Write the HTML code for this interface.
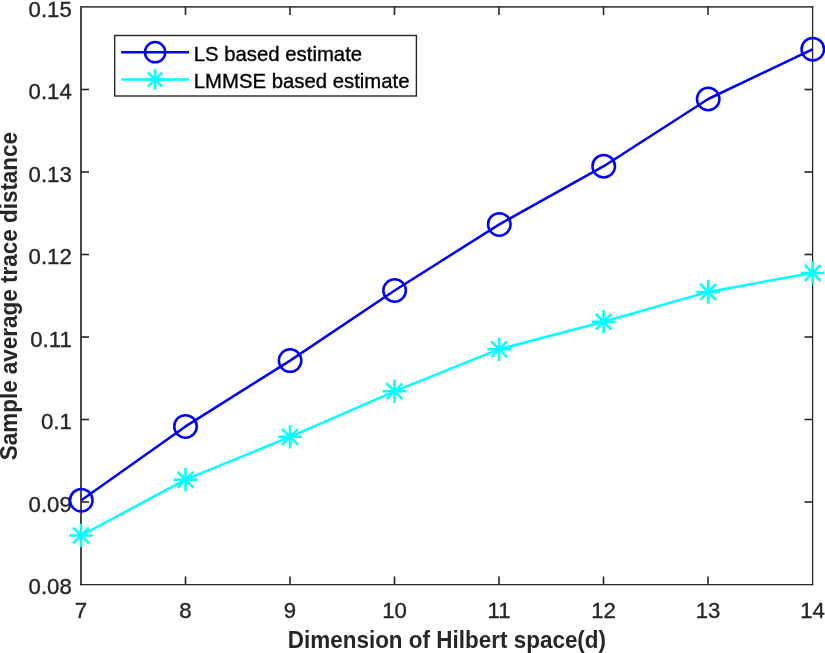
<!DOCTYPE html>
<html lang="en">
<head>
<meta charset="utf-8">
<title>Sample average trace distance</title>
<style>
html,body{margin:0;padding:0;background:#fff;}
body{width:825px;height:653px;overflow:hidden;}
svg{display:block;}
text{font-family:"Liberation Sans",sans-serif;fill:#262626;}
.t{font-size:22.2px;stroke:#262626;stroke-width:0.35px;}
.l{font-size:22.47px;font-weight:bold;}
.g{font-size:20.35px;fill:#000;stroke:#000;stroke-width:0.35px;}
</style>
</head>
<body>
<svg width="825" height="653" viewBox="0 0 825 653">
<rect x="0" y="0" width="825" height="653" fill="#ffffff"/>
<g fill="none" stroke-linecap="butt">
<line x1="81" y1="5.9" x2="81" y2="585.2" stroke="#474747" stroke-width="2"/>
<line x1="80" y1="6.9" x2="813.2" y2="6.9" stroke="#474747" stroke-width="1.8"/>
<line x1="812.6" y1="6" x2="812.6" y2="585.2" stroke="#262626" stroke-width="1.3"/>
<line x1="80" y1="584.6" x2="813.2" y2="584.6" stroke="#262626" stroke-width="1.3"/>
</g>
<g stroke="#262626" stroke-width="1.6" fill="none" stroke-linecap="butt">
<line x1="185.50" y1="584.5" x2="185.50" y2="576.5"/>
<line x1="185.50" y1="7.0" x2="185.50" y2="15.0"/>
<line x1="81.0" y1="89.50" x2="89.0" y2="89.50"/>
<line x1="812.5" y1="89.50" x2="804.5" y2="89.50"/>
<line x1="290.00" y1="584.5" x2="290.00" y2="576.5"/>
<line x1="290.00" y1="7.0" x2="290.00" y2="15.0"/>
<line x1="81.0" y1="172.00" x2="89.0" y2="172.00"/>
<line x1="812.5" y1="172.00" x2="804.5" y2="172.00"/>
<line x1="394.50" y1="584.5" x2="394.50" y2="576.5"/>
<line x1="394.50" y1="7.0" x2="394.50" y2="15.0"/>
<line x1="81.0" y1="254.50" x2="89.0" y2="254.50"/>
<line x1="812.5" y1="254.50" x2="804.5" y2="254.50"/>
<line x1="499.00" y1="584.5" x2="499.00" y2="576.5"/>
<line x1="499.00" y1="7.0" x2="499.00" y2="15.0"/>
<line x1="81.0" y1="337.00" x2="89.0" y2="337.00"/>
<line x1="812.5" y1="337.00" x2="804.5" y2="337.00"/>
<line x1="603.50" y1="584.5" x2="603.50" y2="576.5"/>
<line x1="603.50" y1="7.0" x2="603.50" y2="15.0"/>
<line x1="81.0" y1="419.50" x2="89.0" y2="419.50"/>
<line x1="812.5" y1="419.50" x2="804.5" y2="419.50"/>
<line x1="708.00" y1="584.5" x2="708.00" y2="576.5"/>
<line x1="708.00" y1="7.0" x2="708.00" y2="15.0"/>
<line x1="81.0" y1="502.00" x2="89.0" y2="502.00"/>
<line x1="812.5" y1="502.00" x2="804.5" y2="502.00"/>
</g>
<text class="t" transform="translate(81.00,617.70) scale(1,1.025)" text-anchor="middle">7</text>
<text class="t" transform="translate(185.50,617.70) scale(1,1.025)" text-anchor="middle">8</text>
<text class="t" transform="translate(290.00,617.70) scale(1,1.025)" text-anchor="middle">9</text>
<text class="t" transform="translate(394.50,617.70) scale(1,1.025)" text-anchor="middle">10</text>
<text class="t" transform="translate(499.00,617.70) scale(1,1.025)" text-anchor="middle">11</text>
<text class="t" transform="translate(603.50,617.70) scale(1,1.025)" text-anchor="middle">12</text>
<text class="t" transform="translate(708.00,617.70) scale(1,1.025)" text-anchor="middle">13</text>
<text class="t" transform="translate(812.50,617.70) scale(1,1.025)" text-anchor="middle">14</text>
<text class="t" transform="translate(71.80,16.60) scale(1,1.025)" text-anchor="end">0.15</text>
<text class="t" transform="translate(71.80,99.10) scale(1,1.025)" text-anchor="end">0.14</text>
<text class="t" transform="translate(71.80,181.60) scale(1,1.025)" text-anchor="end">0.13</text>
<text class="t" transform="translate(71.80,264.10) scale(1,1.025)" text-anchor="end">0.12</text>
<text class="t" transform="translate(71.80,346.60) scale(1,1.025)" text-anchor="end">0.11</text>
<text class="t" transform="translate(71.80,429.10) scale(1,1.025)" text-anchor="end">0.1</text>
<text class="t" transform="translate(71.80,511.60) scale(1,1.025)" text-anchor="end">0.09</text>
<text class="t" transform="translate(71.80,594.10) scale(1,1.025)" text-anchor="end">0.08</text>
<text class="l" transform="translate(446.90,648.10) scale(1,1.025)" text-anchor="middle">Dimension of Hilbert space(d)</text>
<text class="l" transform="translate(16.6,296.1) rotate(-90) scale(1,1.03)" text-anchor="middle">Sample average trace distance</text>
<defs><clipPath id="c"><rect x="80.5" y="7.0" width="732.5" height="577.5"/></clipPath></defs>
<polyline clip-path="url(#c)" points="81.3,500.2 185.5,426.4 290.1,360.6 394.6,290.5 499.3,224.4 603.7,166.2 708.2,99.0 812.8,49.2" fill="none" stroke="#0000ff" stroke-width="2.5" stroke-linejoin="round"/>
<polyline clip-path="url(#c)" points="81.0,535.5 185.5,479.7 290.0,436.8 394.5,391.3 499.1,349.2 603.6,321.7 708.1,291.9 812.6,272.9" fill="none" stroke="#00ffff" stroke-width="2.5" stroke-linejoin="round"/>
<circle cx="81.3" cy="500.2" r="11.25" fill="none" stroke="#0000ff" stroke-width="2.5"/>
<circle cx="185.5" cy="426.4" r="11.25" fill="none" stroke="#0000ff" stroke-width="2.5"/>
<circle cx="290.1" cy="360.6" r="11.25" fill="none" stroke="#0000ff" stroke-width="2.5"/>
<circle cx="394.6" cy="290.5" r="11.25" fill="none" stroke="#0000ff" stroke-width="2.5"/>
<circle cx="499.3" cy="224.4" r="11.25" fill="none" stroke="#0000ff" stroke-width="2.5"/>
<circle cx="603.7" cy="166.2" r="11.25" fill="none" stroke="#0000ff" stroke-width="2.5"/>
<circle cx="708.2" cy="99.0" r="11.25" fill="none" stroke="#0000ff" stroke-width="2.5"/>
<circle cx="812.8" cy="49.2" r="11.25" fill="none" stroke="#0000ff" stroke-width="2.5"/>
<path d="M69.20 535.50H92.80M81.00 523.70V547.30M73.08 527.58L88.92 543.42M73.08 543.42L88.92 527.58" stroke="#00ffff" stroke-width="2.5" fill="none"/>
<path d="M173.70 479.70H197.30M185.50 467.90V491.50M177.58 471.78L193.42 487.62M177.58 487.62L193.42 471.78" stroke="#00ffff" stroke-width="2.5" fill="none"/>
<path d="M278.20 436.80H301.80M290.00 425.00V448.60M282.08 428.88L297.92 444.72M282.08 444.72L297.92 428.88" stroke="#00ffff" stroke-width="2.5" fill="none"/>
<path d="M382.70 391.30H406.30M394.50 379.50V403.10M386.58 383.38L402.42 399.22M386.58 399.22L402.42 383.38" stroke="#00ffff" stroke-width="2.5" fill="none"/>
<path d="M487.30 349.20H510.90M499.10 337.40V361.00M491.18 341.28L507.02 357.12M491.18 357.12L507.02 341.28" stroke="#00ffff" stroke-width="2.5" fill="none"/>
<path d="M591.80 321.70H615.40M603.60 309.90V333.50M595.68 313.78L611.52 329.62M595.68 329.62L611.52 313.78" stroke="#00ffff" stroke-width="2.5" fill="none"/>
<path d="M696.30 291.90H719.90M708.10 280.10V303.70M700.18 283.98L716.02 299.82M700.18 299.82L716.02 283.98" stroke="#00ffff" stroke-width="2.5" fill="none"/>
<path d="M800.80 272.90H824.40M812.60 261.10V284.70M804.68 264.98L820.52 280.82M804.68 280.82L820.52 264.98" stroke="#00ffff" stroke-width="2.5" fill="none"/>
<rect x="114.7" y="35.5" width="301.7" height="60.5" fill="#ffffff" stroke="#262626" stroke-width="1.4"/>
<line x1="121.1" y1="52.2" x2="189" y2="52.2" stroke="#0000ff" stroke-width="2.5"/>
<circle cx="155.1" cy="52.2" r="10.15" fill="none" stroke="#0000ff" stroke-width="2.5"/>
<line x1="121.1" y1="79.4" x2="189" y2="79.4" stroke="#00ffff" stroke-width="2.5"/>
<path d="M144.80 79.40H165.40M155.10 69.10V89.70M147.96 72.26L162.24 86.54M147.96 86.54L162.24 72.26" stroke="#00ffff" stroke-width="2.5" fill="none"/>
<text class="g" transform="translate(193.70,61.30) scale(1,1.03)">LS based estimate</text>
<text class="g" transform="translate(193.70,87.60) scale(1,1.03)">LMMSE based estimate</text>
</svg>
</body>
</html>
